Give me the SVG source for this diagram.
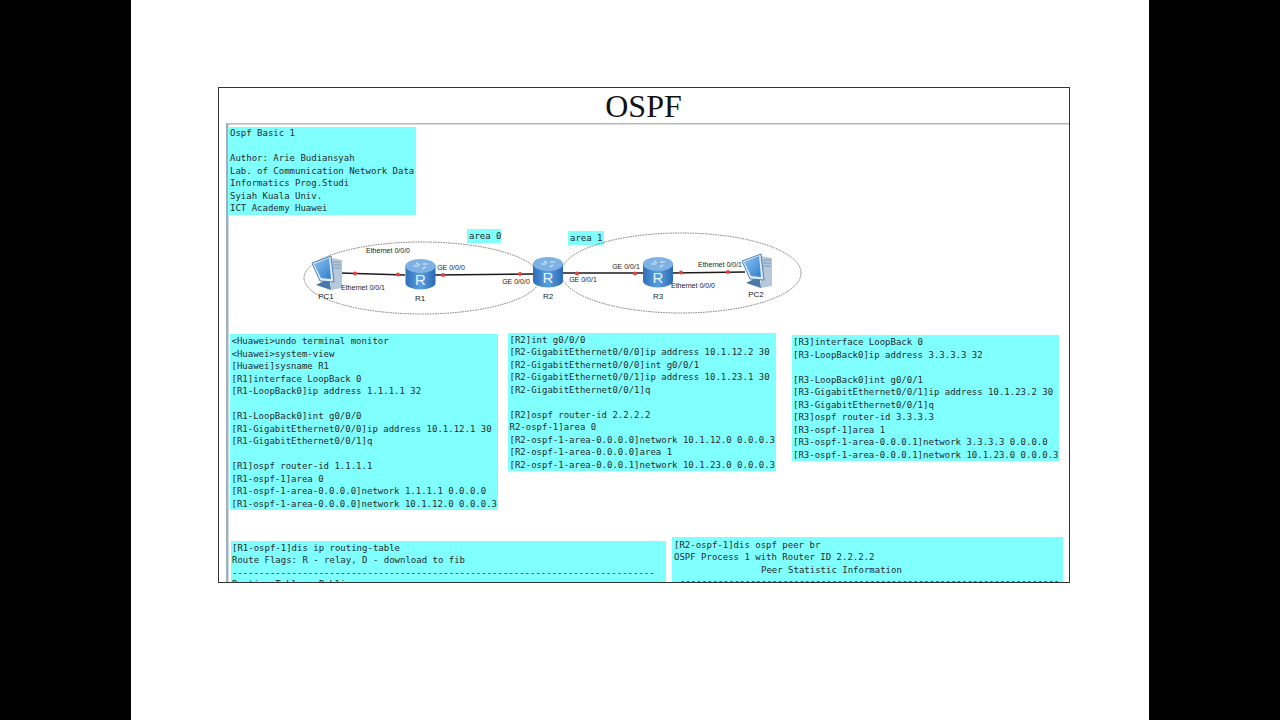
<svg xmlns="http://www.w3.org/2000/svg" xmlns:xlink="http://www.w3.org/1999/xlink" width="1280" height="720" viewBox="0 0 1280 720">
<style>
.box{fill:#80ffff}
.t{font-family:"DejaVu Sans Mono","Liberation Mono",monospace;font-size:9px;fill:#262b2c;white-space:pre}
.l{font-family:"Liberation Sans",Arial,sans-serif;font-size:7px;fill:#222;text-anchor:middle}
.n{font-family:"Liberation Sans",Arial,sans-serif;font-size:8px;fill:#222;text-anchor:middle}
.area{fill:none;stroke:#555;stroke-width:.8;stroke-dasharray:1.5 1}
.link{stroke:#1a1a1a;stroke-width:1.5;fill:none}
.dot{fill:#e8413c}
</style>
<defs>
<linearGradient id="rg" x1="0" x2="1" y1="0" y2="0"><stop offset="0" stop-color="#2f6fb8"/><stop offset=".5" stop-color="#5a9fe0"/><stop offset="1" stop-color="#2c6ab3"/></linearGradient>
<linearGradient id="mg" x1="0" x2="1" y1="0" y2="1"><stop offset="0" stop-color="#8fc4f0"/><stop offset="1" stop-color="#2f7fd0"/></linearGradient>
<g id="router">
<path d="M-15-9V9A15 6.500 0 0 0 15 9V-9Z" fill="url(#rg)"/>
<ellipse cx="0" cy="-8" rx="15" ry="7" fill="#7fb2e4"/>
<path d="M-7-8h5M2-10h5M-4-11l3 2M2-5l3-2" stroke="#dcebfa" stroke-width="1.1" fill="none"/>
<text x="0" y="11" font-family="Liberation Sans,Arial,sans-serif" font-size="15" fill="#e8f2fc" text-anchor="middle">R</text>
</g>
<g id="pc">
<path d="M331 258 342 260V288L331 290Z" fill="#b8c8dc"/>
<path d="M333 262h8M333 265h8M333 268h8" stroke="#6f8fb0" stroke-width=".8"/>
<path d="M312 263 331 256 334 282 320 281Z" fill="#dfeaf6" stroke="#4f7fb0" stroke-width="1"/>
<path d="M314 264 329 258 331 279 321 278Z" fill="url(#mg)"/>
<path d="M324 281 330 282 331 290 316 285Z" fill="#4a78a8"/>
</g>
<clipPath id="frameclip"><rect x="219" y="87" width="850" height="495"/></clipPath>
</defs>
<rect width="1280" height="720" fill="#fff"/>
<rect width="131" height="720" fill="#000"/>
<rect x="1149" width="131" height="720" fill="#000"/>
<g id="frame">
<rect x="218.500" y="87.500" width="851" height="495" fill="#fff"/>
<rect x="226" y="123" width="843" height="1.500" fill="#b5b8bb"/>
<rect x="226" y="124" width="2.500" height="458" fill="#9fb0c0"/>
<text x="643.500" y="117" font-family="Liberation Serif,Times New Roman,serif" font-size="32" fill="#111" text-anchor="middle">OSPF</text>
</g>
<g id="header-note">
<rect class="box" x="228" y="127" width="188" height="88"/>
<text class="t" x="230" y="136">Ospf Basic 1</text>
<text class="t" x="230" y="161">Author: Arie Budiansyah</text>
<text class="t" x="230" y="173.500">Lab. of Communication Network Data</text>
<text class="t" x="230" y="186">Informatics Prog.Studi</text>
<text class="t" x="230" y="198.500">Syiah Kuala Univ.</text>
<text class="t" x="230" y="211">ICT Academy Huawei</text>
</g>
<g id="area0-label"><rect class="box" x="467" y="229" width="34" height="14"/><text class="t" x="469" y="239">area 0</text></g>
<g id="area1-label"><rect class="box" x="568" y="231" width="36" height="14"/><text class="t" x="570" y="241">area 1</text></g>
<g id="areas">
<ellipse class="area" cx="422" cy="278" rx="118" ry="36"/>
<ellipse class="area" cx="681" cy="273" rx="120" ry="40"/>
</g>
<g id="connectors">
<path class="link" d="M340 273 405 275"/>
<path class="link" d="M435 275 535 274"/>
<path class="link" d="M560 273H645"/>
<path class="link" d="M672 273 745 272"/>
<g class="dot">
<circle cx="355" cy="273.500" r="2"/><circle cx="398" cy="274.500" r="2"/><circle cx="443" cy="275" r="2"/><circle cx="520" cy="274" r="2"/><circle cx="577" cy="273.500" r="2"/><circle cx="635" cy="273.500" r="2"/><circle cx="681" cy="272.500" r="2"/><circle cx="728" cy="272" r="2"/>
</g>
</g>
<g id="PC1"><use href="#pc"/><text class="n" x="326" y="299">PC1</text></g>
<g id="R1"><use href="#router" x="420.500" y="274"/><text class="n" x="420" y="301">R1</text></g>
<g id="R2"><use href="#router" x="548" y="272"/><text class="n" x="548" y="299">R2</text></g>
<g id="R3"><use href="#router" x="658" y="272"/><text class="n" x="658" y="299">R3</text></g>
<g id="PC2"><use href="#pc" x="430" y="-2"/><text class="n" x="756" y="297">PC2</text></g>
<g id="port-labels">
<text class="l" x="388" y="252.500">Ethernet 0/0/0</text>
<text class="l" x="363" y="289.500">Ethernet 0/0/1</text>
<text class="l" x="451" y="269.500">GE 0/0/0</text>
<text class="l" x="516" y="283.500">GE 0/0/0</text>
<text class="l" x="583" y="281.500">GE 0/0/1</text>
<text class="l" x="626" y="268.500">GE 0/0/1</text>
<text class="l" x="693" y="288">Ethernet 0/0/0</text>
<text class="l" x="720" y="266.500">Ethernet 0/0/1</text>
</g>
<g id="r1-config">
<rect class="box" x="230" y="334" width="268" height="176"/>
<text class="t" x="231.500" y="344">&lt;Huawei&gt;undo terminal monitor</text>
<text class="t" x="231.500" y="356.500">&lt;Huawei&gt;system-view</text>
<text class="t" x="231.500" y="369">[Huawei]sysname R1</text>
<text class="t" x="231.500" y="381.500">[R1]interface LoopBack 0</text>
<text class="t" x="231.500" y="394">[R1-LoopBack0]ip address 1.1.1.1 32</text>
<text class="t" x="231.500" y="419">[R1-LoopBack0]int g0/0/0</text>
<text class="t" x="231.500" y="431.500">[R1-GigabitEthernet0/0/0]ip address 10.1.12.1 30</text>
<text class="t" x="231.500" y="444">[R1-GigabitEthernet0/0/1]q</text>
<text class="t" x="231.500" y="469">[R1]ospf router-id 1.1.1.1</text>
<text class="t" x="231.500" y="481.500">[R1-ospf-1]area 0</text>
<text class="t" x="231.500" y="494">[R1-ospf-1-area-0.0.0.0]network 1.1.1.1 0.0.0.0</text>
<text class="t" x="231.500" y="506.500">[R1-ospf-1-area-0.0.0.0]network 10.1.12.0 0.0.0.3</text>
</g>
<g id="r2-config">
<rect class="box" x="508" y="333" width="268" height="138"/>
<text class="t" x="509.500" y="342.500">[R2]int g0/0/0</text>
<text class="t" x="509.500" y="355">[R2-GigabitEthernet0/0/0]ip address 10.1.12.2 30</text>
<text class="t" x="509.500" y="367.500">[R2-GigabitEthernet0/0/0]int g0/0/1</text>
<text class="t" x="509.500" y="380">[R2-GigabitEthernet0/0/1]ip address 10.1.23.1 30</text>
<text class="t" x="509.500" y="392.500">[R2-GigabitEthernet0/0/1]q</text>
<text class="t" x="509.500" y="417.500">[R2]ospf router-id 2.2.2.2</text>
<text class="t" x="509.500" y="430">R2-ospf-1]area 0</text>
<text class="t" x="509.500" y="442.500">[R2-ospf-1-area-0.0.0.0]network 10.1.12.0 0.0.0.3</text>
<text class="t" x="509.500" y="455">[R2-ospf-1-area-0.0.0.0]area 1</text>
<text class="t" x="509.500" y="467.500">[R2-ospf-1-area-0.0.0.1]network 10.1.23.0 0.0.0.3</text>
</g>
<g id="r3-config">
<rect class="box" x="792" y="335" width="267" height="126"/>
<text class="t" x="793" y="345">[R3]interface LoopBack 0</text>
<text class="t" x="793" y="357.500">[R3-LoopBack0]ip address 3.3.3.3 32</text>
<text class="t" x="793" y="382.500">[R3-LoopBack0]int g0/0/1</text>
<text class="t" x="793" y="395">[R3-GigabitEthernet0/0/1]ip address 10.1.23.2 30</text>
<text class="t" x="793" y="407.500">[R3-GigabitEthernet0/0/1]q</text>
<text class="t" x="793" y="420">[R3]ospf router-id 3.3.3.3</text>
<text class="t" x="793" y="432.500">[R3-ospf-1]area 1</text>
<text class="t" x="793" y="445">[R3-ospf-1-area-0.0.0.1]network 3.3.3.3 0.0.0.0</text>
<text class="t" x="793" y="457.500">[R3-ospf-1-area-0.0.0.1]network 10.1.23.0 0.0.0.3</text>
</g>
<g id="routing-table" clip-path="url(#frameclip)">
<rect class="box" x="231" y="541" width="435" height="41"/>
<text class="t" x="232" y="551">[R1-ospf-1]dis ip routing-table</text>
<text class="t" x="232" y="563">Route Flags: R - relay, D - download to fib</text>
<text class="t" x="232" y="575.500">------------------------------------------------------------------------------</text>
<text class="t" x="232" y="587">Routing Tables: Public</text>
</g>
<g id="peer-info" clip-path="url(#frameclip)">
<rect class="box" x="672" y="537" width="391" height="45"/>
<text class="t" x="674" y="547.500">[R2-ospf-1]dis ospf peer br</text>
<text class="t" x="674" y="560">OSPF Process 1 with Router ID 2.2.2.2</text>
<text class="t" x="761" y="572.500">Peer Statistic Information</text>
<text class="t" x="680" y="584">----------------------------------------------------------------------</text>
</g>
<g id="frame-border"><rect x="218.500" y="87.500" width="851" height="495" fill="none" stroke="#333" stroke-width="1"/></g>
</svg>
